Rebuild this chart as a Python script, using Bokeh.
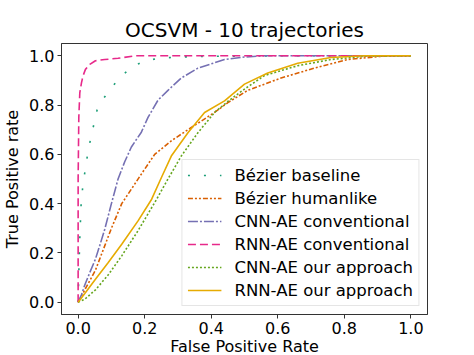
from bokeh.plotting import figure
from bokeh.models import FixedTicker, PrintfTickFormatter, Legend, LegendItem, Range1d, Label
from bokeh.embed import file_html
from bokeh.resources import INLINE

# ---- data ----
baseline_fpr = [0, 0.002, 0.005, 0.009, 0.014, 0.021, 0.028, 0.037, 0.047, 0.057, 0.078, 0.10, 0.128, 0.158, 0.193, 0.24, 0.3, 0.4, 0.6, 0.8, 1.0]
baseline_tpr = [0, 0.12, 0.26, 0.4, 0.47, 0.535, 0.596, 0.66, 0.72, 0.78, 0.83, 0.87, 0.915, 0.95, 0.976, 0.99, 0.995, 0.998, 1.0, 1.0, 1.0]

humanlike_fpr = [0, 0.02, 0.052, 0.1, 0.131, 0.19, 0.23, 0.28, 0.33, 0.41, 0.45, 0.51, 0.61, 0.71, 0.81, 0.91, 1.0]
humanlike_tpr = [0, 0.05, 0.13, 0.3, 0.4, 0.52, 0.6, 0.655, 0.70, 0.77, 0.81, 0.86, 0.91, 0.95, 0.985, 0.998, 1.0]

cnn_conv_fpr = [0, 0.01, 0.02, 0.035, 0.052, 0.065, 0.08, 0.1, 0.12, 0.14, 0.16, 0.19, 0.21, 0.24, 0.27, 0.31, 0.36, 0.44, 0.5, 0.56, 0.7, 1.0]
cnn_conv_tpr = [0, 0.03, 0.07, 0.12, 0.175, 0.23, 0.296, 0.4, 0.5, 0.57, 0.63, 0.69, 0.75, 0.82, 0.86, 0.91, 0.95, 0.985, 0.995, 1.0, 1.0, 1.0]

rnn_conv_fpr = [0, 0.0, 0.002, 0.005, 0.01, 0.015, 0.022, 0.035, 0.052, 0.08, 0.12, 0.17, 1.0]
rnn_conv_tpr = [0, 0.5, 0.75, 0.85, 0.89, 0.92, 0.945, 0.965, 0.98, 0.985, 0.99, 1.0, 1.0]

cnn_ours_fpr = [0, 0.02, 0.052, 0.09, 0.131, 0.18, 0.236, 0.27, 0.31, 0.36, 0.41, 0.45, 0.50, 0.56, 0.66, 0.76, 0.86, 1.0]
cnn_ours_tpr = [0, 0.012, 0.05, 0.11, 0.188, 0.29, 0.418, 0.5, 0.593, 0.688, 0.77, 0.815, 0.865, 0.92, 0.96, 0.985, 0.998, 1.0]

rnn_ours_fpr = [0, 0.02, 0.052, 0.09, 0.131, 0.18, 0.221, 0.25, 0.28, 0.33, 0.38, 0.44, 0.50, 0.57, 0.66, 0.76, 0.86, 1.0]
rnn_ours_tpr = [0, 0.035, 0.093, 0.16, 0.235, 0.33, 0.418, 0.505, 0.593, 0.688, 0.77, 0.817, 0.885, 0.93, 0.97, 0.993, 1.0, 1.0]

labels = ["Bézier baseline", "Bézier humanlike", "CNN-AE conventional",
          "RNN-AE conventional", "CNN-AE our approach", "RNN-AE our approach"]
ticks = [0.0, 0.2, 0.4, 0.6, 0.8, 1.0]

FONT = "DejaVu Sans"

p = figure(width=474, height=355, output_backend="svg", toolbar_location=None,
           x_range=Range1d(-0.05, 1.05), y_range=Range1d(-0.05, 1.05),
           min_border_left=60, min_border_right=47, min_border_top=43, min_border_bottom=40)

p.title.text = "OCSVM - 10 trajectories"
p.title.align = "center"
p.title.text_font = FONT
p.title.text_font_size = "20px"
p.title.text_font_style = "normal"
p.title.text_color = "black"
p.title.standoff = 4

p.xgrid.visible = False
p.ygrid.visible = False
p.outline_line_color = "#333333"
p.outline_line_width = 1

for ax in (p.xaxis[0], p.yaxis[0]):
    ax.ticker = FixedTicker(ticks=ticks)
    ax.formatter = PrintfTickFormatter(format="%.1f")
    ax.major_label_text_font = FONT
    ax.major_label_text_font_size = "16px"
    ax.major_label_text_color = "black"
    ax.axis_label_text_font = FONT
    ax.axis_label_text_font_size = "16px"
    ax.axis_label_text_font_style = "normal"
    ax.axis_label_text_color = "black"
    ax.minor_tick_line_color = None
    ax.major_tick_in = 0
    ax.major_tick_out = 4
    ax.major_tick_line_color = "#333333"
    ax.axis_line_color = "#333333"
    ax.major_label_standoff = 3

p.yaxis.axis_label = "True Positive rate"
p.yaxis.axis_label_standoff = 4

# x-axis title placed just below the tick labels (as in the reference, near the page edge)
xlabel = Label(x=0.5, y=9, x_units="data", y_units="screen", text="False Positive Rate",
               text_font=FONT, text_font_size="16px", text_color="black",
               text_align="center", text_baseline="middle")
p.add_layout(xlabel, "below")

colors = ["#1b9e77", "#d95f02", "#7570b3", "#e7298a", "#66a61e", "#e6ab02"]
dashes = ["2 14", "5 2 2 2 2 2", "10 2 2 2", "8 4", "2 2", "solid"]
series = [(baseline_fpr, baseline_tpr), (humanlike_fpr, humanlike_tpr),
          (cnn_conv_fpr, cnn_conv_tpr), (rnn_conv_fpr, rnn_conv_tpr),
          (cnn_ours_fpr, cnn_ours_tpr), (rnn_ours_fpr, rnn_ours_tpr)]

items = []
for (xs, ys), c, d, lab in zip(series, colors, dashes, labels):
    r = p.line(xs, ys, line_color=c, line_width=1.6, line_dash=d)
    items.append(LegendItem(label=lab, renderers=[r]))

legend = Legend(items=items, location="bottom_right")
legend.label_text_font = FONT
legend.label_text_font_size = "16.5px"
legend.label_text_color = "black"
legend.glyph_width = 34
legend.glyph_height = 20
legend.label_height = 20
legend.spacing = 3
legend.padding = 5
legend.margin = 8
legend.label_standoff = 13
legend.border_line_color = "#cccccc"
legend.border_line_width = 1
legend.background_fill_alpha = 0.8
p.add_layout(legend, "center")

open("out.html", "w").write(file_html(p, INLINE))
